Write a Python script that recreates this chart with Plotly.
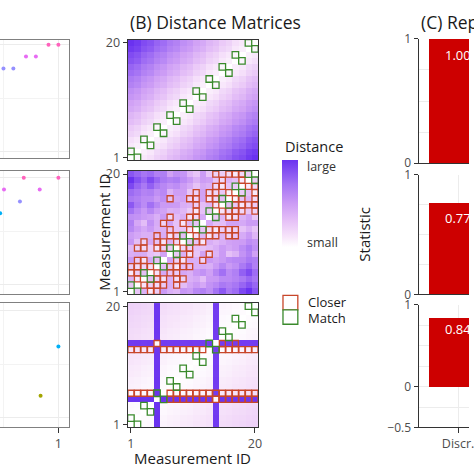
import numpy as np
import plotly.graph_objects as go

W = H = 474
def fx(p): return p / W
def fy(p): return 1 - p / H

# ---------------- data ----------------
ids = list(range(1, 21))
match_id = [2, 1, 4, 3, 6, 5, 8, 7, 10, 9, 12, 11, 14, 13, 16, 15, 18, 17, 20, 19]
subject_of = [1, 1, 2, 2, 3, 3, 4, 4, 5, 5, 6, 6, 7, 7, 8, 8, 9, 9, 10, 10]
subject_colors = ['#F8766D', '#D89000', '#A3A500', '#39B600', '#00BF7D',
                  '#00BFC4', '#00B0F6', '#9590FF', '#E76BF3', '#FF62BC']

# simulation 1: well separated subjects (measurement coordinates)
sim1_x = [-0.935, -0.845, -0.73, -0.64, -0.525, -0.435, -0.32, -0.23, -0.115, -0.025,
          0.09, 0.18, 0.295, 0.385, 0.50, 0.59, 0.705, 0.795, 0.91, 1.00]
sim1_y = [0, 0, 0.111, 0.111, 0.222, 0.222, 0.333, 0.333, 0.444, 0.444,
          0.556, 0.556, 0.667, 0.667, 0.778, 0.778, 0.889, 0.889, 1, 1]
sim1_z = [0] * 20
# simulation 2: noisy measurements (third coordinate not shown in panel A)
sim2_x = [-1.00, -0.75, -0.55, -0.80, -0.60, -0.35, -0.15, -0.40, -0.20, 0.05,
          0.25, 0.00, 0.15, 0.47, 0.65, 0.40, 0.505, 0.83, 1.00, 0.685]
sim2_y = [0, 0, 0.111, 0.111, 0.222, 0.222, 0.333, 0.333, 0.444, 0.444,
          0.556, 0.556, 0.667, 0.667, 0.778, 0.778, 0.889, 0.889, 1, 1]
sim2_z = [0.45, -0.15, -0.30, 0.38, 0.15, -0.52, 0.52, 0.00, -0.38, 0.30,
          0.08, -0.52, 0.45, 0.00, -0.22, 0.45, 0.38, -0.08, -0.15, 0.30]
# simulation 3: two outlying measurements (5 and 14)
sim3_x = [-0.935, -0.845, -0.73, -0.64, -4.05, -0.435, -0.32, -0.23, -0.115, -0.025,
          0.09, 0.18, 0.295, -4.10, 0.50, 0.59, 0.705, 0.795, 0.91, 1.00]
sim3_y = [0, 0, 0.111, 0.111, 9.65, 0.222, 0.333, 0.333, 0.444, 0.444,
          0.556, 0.556, 0.667, 9.30, 0.778, 0.778, 0.889, 0.889, 1, 1]
sim3_z = [0] * 20
# panel A3 visible points
a3_x = [1.00, 0.838]
a3_y = [0.667, 0.207]
a3_subject = [7, 3]

stat_names = ['Discr.']
stat_values = [1.00, 0.77, 0.84]
stat_labels = ['1.00', '0.77', '0.84']

# ---------------- figure ----------------
fig = go.Figure()
FONT = 'Open Sans'
TICKC = '#4d4d4d'

rowsAB = [(32, 157), (168, 296), (305, 434)]
rowsC = [(31, 160), (172, 296), (307, 434)]
a_yranges = [(-0.063, 1.045), (-0.090, 1.063), (-0.090, 1.072)]
c_yranges = [(0, 1), (0, 1), (-0.5, 1)]

colorscale = [[0, '#ffffff'], [0.12, '#f7e4fa'], [0.3, '#e6c1f7'],
              [0.5, '#cc9cf5'], [0.72, '#a574f4'], [1, '#6a32f0']]

def dist(xs, ys, zs):
    x = np.array(xs); y = np.array(ys); z = np.array(zs)
    return np.sqrt((x[:, None] - x[None, :]) ** 2 + (y[:, None] - y[None, :]) ** 2
                   + (z[:, None] - z[None, :]) ** 2)

def closer_cells(D):
    cx, cy = [], []
    for i in range(20):
        m = match_id[i] - 1
        for j in range(20):
            if j != i and j != m and D[i, j] < D[i, m]:
                cx.append(ids[j]); cy.append(ids[i])
    return cx, cy

sims = [(sim1_x, sim1_y, sim1_z), (sim2_x, sim2_y, sim2_z), (sim3_x, sim3_y, sim3_z)]

# Panel A scatter
a_points = [(sim1_x, sim1_y, subject_of), (sim2_x, sim2_y, subject_of), (a3_x, a3_y, a3_subject)]
for k, (xs, ys, subj) in enumerate(a_points):
    n = k + 1
    fig.add_trace(go.Scatter(x=xs, y=ys, mode='markers',
                             marker=dict(size=4, color=[subject_colors[s - 1] for s in subj]),
                             xaxis=f'x{n}', yaxis=f'y{n}', hoverinfo='skip', showlegend=False))

# Panel B heatmaps
for k, (xs, ys, zs) in enumerate(sims):
    n = k + 4
    D = dist(xs, ys, zs)
    Z = D / D.max()
    hm = dict(z=Z, x=ids, y=ids, colorscale=colorscale, zmin=0, zmax=1,
              xaxis=f'x{n}', yaxis=f'y{n}', hoverinfo='skip')
    if k == 0:
        hm.update(showscale=True, colorbar=dict(
            x=fx(285), xanchor='left', y=fy(157), yanchor='top',
            lenmode='pixels', len=87, thickness=16, thicknessmode='pixels',
            outlinewidth=0, xpad=0, ypad=0,
            tickvals=[0.93, 0.05], ticktext=['large', 'small'],
            ticks='outside', ticklen=7, tickcolor='rgba(0,0,0,0)',
            tickfont=dict(size=12.5, color='#333', family=FONT)))
    else:
        hm.update(showscale=False)
    fig.add_trace(go.Heatmap(**hm))
    cx, cy = closer_cells(D)
    fig.add_trace(go.Scatter(x=cx, y=cy, mode='markers',
                             marker=dict(symbol='square-open', size=6.0, color='#c8462a',
                                         line=dict(width=1.3)),
                             xaxis=f'x{n}', yaxis=f'y{n}', hoverinfo='skip', showlegend=False))
    fig.add_trace(go.Scatter(x=match_id, y=ids, mode='markers',
                             marker=dict(symbol='square-open', size=6.5, color='#3a8a2c',
                                         line=dict(width=1.3)),
                             xaxis=f'x{n}', yaxis=f'y{n}', hoverinfo='skip', showlegend=False))

# Panel C bars
for k in range(3):
    n = k + 7
    fig.add_trace(go.Bar(x=[0], y=[stat_values[k]], width=0.9, marker_color='#cd0000',
                         marker_line_width=0, xaxis=f'x{n}', yaxis=f'y{n}',
                         hoverinfo='skip', showlegend=False))
    fig.add_annotation(x=0, y=stat_values[k] - 0.13, xref=f'x{n}', yref=f'y{n}',
                       text=stat_labels[k], showarrow=False, yanchor='middle',
                       font=dict(size=13, color='white', family=FONT))

layout = dict(width=W, height=H, margin=dict(l=0, r=0, t=0, b=0),
              paper_bgcolor='white', plot_bgcolor='white', showlegend=False,
              font=dict(family=FONT, size=13, color='#222'), bargap=0)

for k in range(3):
    top, bot = rowsAB[k]
    # A
    n = k + 1
    layout[f'xaxis{n}'] = dict(domain=[0, fx(70)], range=[0.4685, 1.099], anchor=f'y{n}',
                               showline=True, mirror=True, linecolor='#808080', linewidth=1,
                               showgrid=True, gridcolor='#ececec', zeroline=False,
                               tickvals=[0, 1], ticktext=['0', '1'],
                               minor=dict(tickvals=[0.5], showgrid=True, gridcolor='#f3f3f3'),
                               ticks='outside' if k == 2 else '', ticklen=5, tickcolor='#333',
                               showticklabels=(k == 2), tickfont=dict(size=12.5, color=TICKC))
    layout[f'yaxis{n}'] = dict(domain=[fy(bot if k else 155), fy(top)], range=list(a_yranges[k]),
                               anchor=f'x{n}', side='right', showline=True, linecolor='#808080',
                               linewidth=1, showgrid=True, gridcolor='#ececec', zeroline=False,
                               tickvals=[0, 1], showticklabels=False, ticks='',
                               minor=dict(tickvals=[0.5], showgrid=True, gridcolor='#f3f3f3'))
    # B
    n = k + 4
    layout[f'xaxis{n}'] = dict(domain=[fx(129), fx(261)], range=[0.5, 20.5], anchor=f'y{n}',
                               showline=True, mirror=True, linecolor='#333', linewidth=1,
                               showgrid=False, zeroline=False, tickvals=[1, 20],
                               ticks='outside' if k == 2 else '', ticklen=5, tickcolor='#333',
                               showticklabels=(k == 2), tickfont=dict(size=12.5, color=TICKC))
    layout[f'yaxis{n}'] = dict(domain=[fy(bot), fy(top)], range=[0.5, 20.5], anchor=f'x{n}',
                               showline=True, mirror=True, linecolor='#333', linewidth=1,
                               showgrid=False, zeroline=False, tickvals=[1, 20],
                               ticks='outside', ticklen=4, tickcolor='#333',
                               tickfont=dict(size=12.5, color=TICKC))
    # C
    n = k + 7
    ctop, cbot = rowsC[k]
    lo, hi = c_yranges[k]
    major = [v for v in [-0.5, 0, 1] if lo <= v <= hi]
    layout[f'xaxis{n}'] = dict(domain=[fx(423), 1], range=[-0.6, 0.165], anchor=f'y{n}',
                               showline=True, linecolor='#333', linewidth=1,
                               showgrid=True, gridcolor='#ececec', zeroline=False,
                               tickvals=[0], ticktext=stat_names, ticklabeloverflow='allow',
                               ticks='outside' if k == 2 else '', ticklen=5, tickcolor='#333',
                               showticklabels=(k == 2), tickfont=dict(size=12.5, color=TICKC))
    layout[f'yaxis{n}'] = dict(domain=[fy(cbot), fy(ctop)], range=[lo, hi], anchor=f'x{n}',
                               showline=True, linecolor='#333', linewidth=1,
                               showgrid=True, gridcolor='#ececec', zeroline=False,
                               tickvals=major, ticktext=[('\u22120.5' if v == -0.5 else f'{v:g}') for v in major],
                               ticks='outside', ticklen=4, tickcolor='#333',
                               tickfont=dict(size=12, color=TICKC),
                               minor=dict(dtick=0.25, tick0=0, showgrid=True, gridcolor='#ececec', ticks=''))

fig.update_layout(**layout)

ann = [
    dict(text='(B) Distance Matrices', x=fx(129), y=fy(14), xanchor='left', size=17.5),
    dict(text='(C) Reproducibility Statistics', x=fx(423), y=fy(14), xanchor='left', size=17.5),
    dict(text='Measurement ID', x=fx(195), y=fy(466), xanchor='center', size=15),
    dict(text='Distance', x=fx(286), y=fy(143), xanchor='left', size=14.5),
    dict(text='Closer', x=fx(309), y=fy(304), xanchor='left', size=13),
    dict(text='Match', x=fx(309), y=fy(320), xanchor='left', size=13),
]
for a in ann:
    fig.add_annotation(text=a['text'], x=a['x'], y=a['y'], xref='paper', yref='paper',
                       xanchor=a['xanchor'], yanchor='middle', showarrow=False,
                       font=dict(size=a['size'], color='#1a1a1a', family=FONT))
fig.add_annotation(text='Measurement ID', x=fx(93), y=fy(232), xref='paper', yref='paper',
                   textangle=-90, showarrow=False, font=dict(size=15, color='#1a1a1a', family=FONT))
fig.add_annotation(text='Statistic', x=fx(380), y=fy(233), xref='paper', yref='paper',
                   textangle=-90, showarrow=False, font=dict(size=15, color='#1a1a1a', family=FONT))

# legend keys for box marks
fig.add_shape(type='rect', xref='paper', yref='paper', x0=fx(286), x1=fx(301), y0=fy(312), y1=fy(297),
              line=dict(color='#c8462a', width=1.3), fillcolor='white')
fig.add_shape(type='rect', xref='paper', yref='paper', x0=fx(286), x1=fx(301), y0=fy(327), y1=fy(312),
              line=dict(color='#3a8a2c', width=1.3), fillcolor='white')

fig.write_html('out.html')
